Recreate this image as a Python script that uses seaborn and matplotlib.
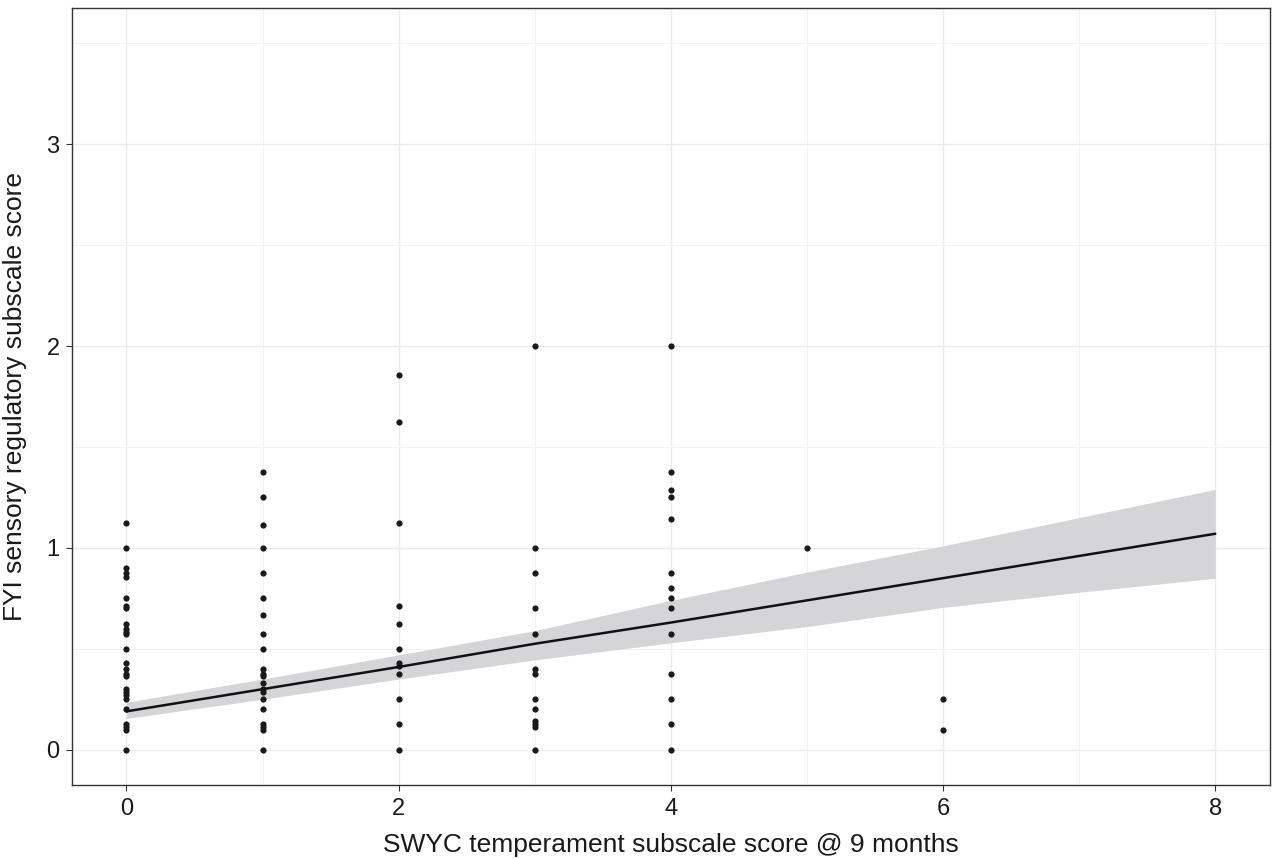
import numpy as np
import pandas as pd
import matplotlib
matplotlib.use("Agg")
import matplotlib.pyplot as plt
import seaborn as sns
from matplotlib.ticker import MultipleLocator

# --- data ---
x0 = [1.125, 1.0, 0.9, 0.875, 0.857, 0.75, 0.714, 0.7, 0.625, 0.6, 0.583, 0.571,
      0.5, 0.429, 0.4, 0.375, 0.367, 0.3, 0.286, 0.273, 0.25, 0.2, 0.125, 0.111,
      0.1, 0.0]
x1 = [1.375, 1.25, 1.111, 1.0, 0.875, 0.75, 0.667, 0.571, 0.5, 0.4, 0.375, 0.367,
      0.333, 0.3, 0.286, 0.25, 0.2, 0.125, 0.111, 0.1, 0.0]
x2 = [1.857, 1.625, 1.125, 0.714, 0.625, 0.5, 0.429, 0.417, 0.375, 0.25, 0.125, 0.0]
x3 = [2.0, 1.0, 0.875, 0.7, 0.571, 0.4, 0.375, 0.25, 0.2, 0.143, 0.125, 0.111, 0.0]
x4 = [2.0, 1.375, 1.286, 1.25, 1.143, 0.875, 0.8, 0.75, 0.7, 0.571, 0.375, 0.25,
      0.125, 0.0]
x5 = [1.0]
x6 = [0.25, 0.1]

fit_x = [0, 1, 2, 3, 4, 5, 6, 7, 8]
fit_y = [0.19, 0.30, 0.41, 0.525, 0.63, 0.74, 0.85, 0.96, 1.07]
fit_lo = [0.155, 0.25, 0.35, 0.445, 0.53, 0.61, 0.705, 0.78, 0.85]
fit_hi = [0.235, 0.35, 0.47, 0.59, 0.74, 0.88, 1.01, 1.15, 1.29]

x_label = "SWYC temperament subscale score @ 9 months"
y_label = "FYI sensory regulatory subscale score"

groups = {0: x0, 1: x1, 2: x2, 3: x3, 4: x4, 5: x5, 6: x6}
pts = pd.DataFrame([(k, v) for k, vals in groups.items() for v in vals],
                   columns=["swyc", "fyi"])
fit = pd.DataFrame({"x": fit_x, "y": fit_y, "lo": fit_lo, "hi": fit_hi})

sns.set_theme(style="white")
plt.rcParams["font.family"] = ["Liberation Sans", "DejaVu Sans"]

fig = plt.figure(figsize=(12.8, 8.59), dpi=100)
ax = fig.add_axes([0.05625, 0.0861, 0.9357, 0.9046])

sns.scatterplot(data=pts, x="swyc", y="fyi", ax=ax, color="#1a1a1a", s=20,
                linewidth=0, zorder=3)
ax.fill_between(fit["x"], fit["lo"], fit["hi"], color="#d5d5d7", linewidth=0,
                zorder=2)
sns.lineplot(data=fit, x="x", y="y", ax=ax, color="#111111", linewidth=1.8,
             zorder=4)

ax.set_xlim(-0.4, 8.4)
ax.set_ylim(-0.175, 3.675)
ax.xaxis.set_major_locator(MultipleLocator(2))
ax.xaxis.set_minor_locator(MultipleLocator(1))
ax.yaxis.set_major_locator(MultipleLocator(1))
ax.yaxis.set_minor_locator(MultipleLocator(0.5))
ax.grid(which="major", color="#ebebeb", linewidth=1.0, zorder=0)
ax.grid(which="minor", color="#f2f2f2", linewidth=0.7, zorder=0)
ax.set_axisbelow(True)
for s in ax.spines.values():
    s.set_color("#333333")
    s.set_linewidth(1.0)
ax.tick_params(which="major", length=4, width=0.8, color="#333333",
               labelsize=17, labelcolor="#1a1a1a", pad=5,
               bottom=True, left=True)
ax.tick_params(which="minor", length=0)

ax.set_xlabel(x_label, fontsize=19, color="#1a1a1a", labelpad=10)
ax.set_ylabel(y_label, fontsize=19, color="#1a1a1a", labelpad=14)

fig.savefig("out.png", dpi=100)
